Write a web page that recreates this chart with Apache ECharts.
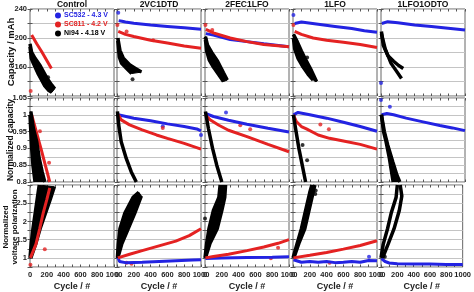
<!DOCTYPE html>
<html>
<head>
<meta charset="utf-8">
<script src="https://cdn.jsdelivr.net/npm/echarts@6/dist/echarts.min.js"></script>
<style>
html, body { margin: 0; padding: 0; background: #fff; }
#chart { width: 474px; height: 292px; }
</style>
</head>
<body>
<div id="chart"></div>
<script>
// 列标题 / 图例
const columns = ['Control', '2VC1DTD', '2FEC1LFO', '1LFO', '1LFO1ODTO']
const seriesNames = ['SC532 - 4.3 V', 'SC811 - 4.2 V', 'Ni94 - 4.18 V']

// 刻度标签
const cycleTicks = [0, 200, 400, 600, 800, 1000]
const capTicks = [160, 200, 240]
const normTicks = [0.8, 0.85, 0.9, 0.95, 1, 1.05]
const polTicks = [1, 1.5, 2, 2.5]

// 第一行: Capacity / mAh  (每列一组 [cycle, value])
const capBlue = [
  [],
  [[20, 224], [60, 223], [100, 222], [200, 220.5], [400, 218], [600, 216], [800, 214], [1000, 212]],
  [[10, 206], [100, 204], [300, 198], [500, 195], [700, 192], [1000, 188]],
  [[20, 220], [100, 222], [300, 219], [500, 216], [700, 213], [850, 210], [1000, 208]],
  [[10, 220], [80, 222.5], [200, 221], [400, 218], [600, 216], [800, 213.5], [1000, 211]]
]
const capRed = [
  [[20, 204], [80, 192], [140, 181], [200, 169], [255, 158]],
  [[15, 209], [100, 205], [200, 202], [400, 197], [600, 193], [800, 189], [1000, 186]],
  [[10, 212], [100, 207], [300, 200], [500, 195], [700, 191], [1000, 188]],
  [[20, 209], [100, 205], [240, 200], [400, 197], [600, 194], [800, 191], [1000, 187]],
  []
]
// 黑色带: A 为上/右边缘, B 为下/左边缘
const capBlackA = [
  [[0, 192], [20, 180], [60, 172], [120, 162], [200, 145], [260, 135], [295, 130]],
  [[10, 200], [35, 183], [75, 172], [150, 163], [220, 158], [290, 153]],
  [[5, 202], [30, 190], [80, 180], [150, 168], [220, 152], [265, 142]],
  [[5, 205], [50, 195], [100, 182], [160, 168], [220, 155], [280, 140]],
  [[5, 209], [27, 190], [80, 176], [150, 168], [210, 162], [265, 158]]
]
const capBlackB = [
  [[0, 188], [15, 172], [40, 165], [100, 150], [176, 134], [220, 128], [260, 125]],
  [[10, 196], [27, 174], [55, 165], [115, 158], [175, 151]],
  [[5, 198], [20, 182], [50, 170], [100, 160], [160, 150], [220, 140]],
  [[5, 200], [20, 185], [60, 172], [120, 160], [180, 150], [240, 142]],
  [[5, 206], [50, 185], [120, 165], [180, 155], [244, 144]]
]
const capBlueDots = [[], [[15, 235]], [], [[5, 231.7]], [[0, 138]]]
const capRedDots = [[[8, 127]], [[5, 218], [114, 209], [430, 197]], [[5, 218], [86, 211]], [[5, 218]], []]
const capBlackDots = [[[215, 146]], [[185, 143]], [], [[168, 173]], []]

// 第二行: Normalized capacity
const normBlue = [
  [],
  [[15, 1.0], [200, 0.99], [400, 0.982], [600, 0.973], [800, 0.965], [950, 0.958], [1000, 0.952]],
  [[5, 1.004], [100, 0.995], [280, 0.984], [500, 0.972], [750, 0.96], [1000, 0.949]],
  [[5, 1.0], [60, 1.007], [200, 1.0], [400, 0.99], [600, 0.978], [800, 0.965], [1000, 0.951]],
  [[8, 1.0], [70, 1.004], [150, 1.0], [300, 0.99], [500, 0.979], [700, 0.968], [850, 0.961], [1000, 0.953]]
]
const normRed = [
  [[20, 1.0], [130, 0.9], [235, 0.8]],
  [[15, 1.0], [50, 0.985], [150, 0.97], [300, 0.955], [470, 0.94], [600, 0.93], [800, 0.915], [1000, 0.898]],
  [[5, 1.0], [60, 0.985], [165, 0.969], [280, 0.954], [500, 0.935], [750, 0.912], [1000, 0.89]],
  [[5, 1.0], [40, 0.98], [100, 0.965], [160, 0.958], [300, 0.94], [435, 0.93], [600, 0.922], [800, 0.912], [1000, 0.898]],
  []
]
const normBlackA = [
  [[10, 1.01], [40, 0.96], [80, 0.92], [110, 0.87], [145, 0.83], [176, 0.8]],
  [[5, 1.01], [20, 0.97], [50, 0.92], [110, 0.87], [170, 0.83], [230, 0.8]],
  [[5, 1.01], [40, 0.96], [90, 0.9], [140, 0.85], [200, 0.8]],
  [[5, 1.0], [30, 0.96], [70, 0.9], [110, 0.85], [150, 0.8]],
  [[5, 1.0], [40, 0.95], [80, 0.91], [140, 0.86], [190, 0.82], [224, 0.8]]
]
const normBlackB = [
  [[0, 1.0], [10, 0.95], [20, 0.9], [35, 0.85], [60, 0.8]],
  [],
  [],
  [],
  [[5, 1.0], [30, 0.95], [60, 0.92], [100, 0.87], [145, 0.8]]
]
const normBlueDots = [[], [[545, 0.966], [1000, 0.94]], [[250, 1.007]], [], [[0, 1.044], [106, 1.024]]]
const normRedDots = [[[118, 0.951], [227, 0.857]], [[545, 0.961]], [[420, 0.969], [538, 0.957]], [[326, 0.971], [427, 0.957]], []]
const normBlackDots = [[], [], [], [[114, 0.91], [168, 0.865]], []]

// 第三行: Normalized voltage polarization
const polBlue = [
  [],
  [[5, 1.05], [30, 0.9], [100, 0.87], [300, 0.88], [500, 0.9], [700, 0.92], [900, 0.94], [1000, 0.95]],
  [[5, 0.98], [200, 1.0], [500, 1.01], [800, 1.02], [1000, 1.03]],
  [[5, 0.95], [100, 0.88], [200, 0.9], [300, 0.88], [400, 0.9], [500, 0.87], [600, 0.88], [700, 0.9], [800, 0.88], [900, 0.93], [1000, 0.92]],
  [[5, 0.98], [50, 0.9], [100, 0.86], [200, 0.84], [400, 0.83], [600, 0.83], [800, 0.82], [1000, 0.82]]
]
const polRed = [
  [[5, 1.0], [70, 1.37], [115, 1.8], [157, 2.23], [200, 2.6], [235, 2.92]],
  [[10, 1.0], [150, 1.1], [300, 1.2], [500, 1.33], [700, 1.46], [860, 1.61], [1000, 1.8]],
  [[5, 1.0], [100, 1.04], [280, 1.1], [500, 1.2], [700, 1.3], [870, 1.4], [1000, 1.5]],
  [[5, 1.0], [200, 1.07], [400, 1.15], [600, 1.24], [800, 1.34], [1000, 1.47]],
  []
]
const polBlackA = [
  [[0, 1.0], [15, 1.4], [35, 1.8], [60, 2.2], [85, 2.6], [110, 3.0]],
  [[5, 1.0], [15, 1.37], [35, 1.8], [94, 2.23], [192, 2.66], [260, 2.8]],
  [[0, 1.0], [20, 1.4], [47, 1.8], [100, 2.3], [165, 2.66], [180, 3.0]],
  [[0, 1.0], [50, 1.4], [100, 1.8], [150, 2.3], [200, 2.8], [225, 3.0]],
  [[0, 1.0], [27, 1.37], [80, 1.8], [125, 2.23], [185, 2.66], [200, 3.0]]
]
const polBlackB = [
  [[10, 1.0], [70, 1.4], [120, 1.8], [180, 2.2], [240, 2.6], [290, 2.95]],
  [[10, 1.0], [55, 1.37], [133, 1.8], [212, 2.23], [290, 2.7]],
  [[5, 1.0], [60, 1.4], [145, 1.8], [200, 2.3], [235, 2.66], [245, 3.0]],
  [[10, 1.0], [70, 1.4], [140, 1.8], [190, 2.3], [240, 2.8], [260, 3.0]],
  [[20, 1.0], [86, 1.37], [160, 1.8], [224, 2.3], [255, 2.7], [235, 3.0]]
]
const polBlueDots = [[], [], [], [[905, 1.03]], []]
const polRedDots = [[[176, 1.24], [5, 0.81]], [[114, 0.87], [173, 0.84]], [[870, 1.28], [784, 0.99]], [[435, 0.87]], []]
const polBlackDots = [[[80, 2.25], [120, 2.28], [155, 2.32]], [], [[0, 2.08]], [[265, 2.75], [270, 2.85]], [[47, 1.03]]]

// 哪些黑色带是密集填充的
const capBand = [true, true, true, true, false]
const normBand = [true, false, false, false, true]
const polBand = [true, true, true, true, false]

const blue = '#2323e2'
const red = '#e42222'
const black = '#000000'
const font = '"Liberation Sans", Arial, sans-serif'

const rows = [
  { ticks: capTicks, min: 120, max: 240, interval: 20, band: capBand, redOnTop: false, blue: capBlue, red: capRed, blackA: capBlackA, blackB: capBlackB, blueDots: capBlueDots, redDots: capRedDots, blackDots: capBlackDots },
  { ticks: normTicks, min: 0.8, max: 1.05, interval: 0.025, band: normBand, redOnTop: false, blue: normBlue, red: normRed, blackA: normBlackA, blackB: normBlackB, blueDots: normBlueDots, redDots: normRedDots, blackDots: normBlackDots },
  { ticks: polTicks, min: 0.75, max: 3, interval: 0.25, band: polBand, redOnTop: true, blue: polBlue, red: polRed, blackA: polBlackA, blackB: polBlackB, blueDots: polBlueDots, redDots: polRedDots, blackDots: polBlackDots }
]

const colLeft = [30, 117, 205, 293, 381]
const colWidth = 84
const rowTop = [9, 98, 185]
const rowHeight = [87, 84, 84]

const onTick = (list, v) => list.some(t => Math.abs(t - v) < 1e-6)

const grid = []
const xAxis = []
const yAxis = []
const series = []

rows.forEach((row, r) => {
  columns.forEach((col, c) => {
    const gi = grid.length
    grid.push({
      left: colLeft[c],
      top: rowTop[r],
      width: colWidth,
      height: rowHeight[r],
      show: true,
      borderColor: '#666',
      borderWidth: 1
    })
    const tick = { show: true, inside: true, length: 2.5, lineStyle: { color: '#555' } }
    xAxis.push({
      type: 'value', gridIndex: gi, min: 0, max: 1000, interval: 100,
      axisLine: { show: false }, axisTick: tick, splitLine: { show: false },
      axisLabel: {
        show: r === 2, margin: 4, fontSize: 7.5, fontWeight: 'bold', fontFamily: font, color: '#222',
        formatter: v => (onTick(cycleTicks, v) ? String(v) : '')
      },
      name: r === 2 ? 'Cycle / #' : '',
      nameLocation: 'middle', nameGap: 15,
      nameTextStyle: { fontSize: 9, fontWeight: 'bold', fontFamily: font, color: '#222' }
    })
    xAxis.push({
      type: 'value', gridIndex: gi, position: 'top', min: 0, max: 1000, interval: 100,
      axisLine: { show: false }, axisTick: tick, splitLine: { show: false }, axisLabel: { show: false }
    })
    yAxis.push({
      type: 'value', gridIndex: gi, min: row.min, max: row.max, interval: row.interval,
      axisLine: { show: false }, axisTick: tick,
      splitLine: { show: true, lineStyle: { color: '#c4c4c4', width: 1 } },
      axisLabel: {
        show: c === 0, margin: 3, fontSize: 7.5, fontWeight: 'bold', fontFamily: font, color: '#222',
        formatter: v => (onTick(row.ticks, v) ? String(+v.toFixed(3)) : '')
      }
    })
    yAxis.push({
      type: 'value', gridIndex: gi, position: 'right', min: row.min, max: row.max, interval: row.interval,
      axisLine: { show: false }, axisTick: tick, splitLine: { show: false }, axisLabel: { show: false }
    })

    const line = (name, color, data, width) => ({
      name, type: 'line', xAxisIndex: gi * 2, yAxisIndex: gi * 2, data,
      showSymbol: false, lineStyle: { color, width }, itemStyle: { color }, clip: true
    })
    const dots = (name, color, data) => ({
      name, type: 'scatter', xAxisIndex: gi * 2, yAxisIndex: gi * 2, data,
      symbolSize: 4, itemStyle: { color }, clip: true
    })
    // 密集黑色带: 上边缘 + 反向下边缘 组成多边形
    const band = (name, upper, lower) => ({
      name, type: 'custom', xAxisIndex: gi * 2, yAxisIndex: gi * 2, data: [0], clip: true,
      itemStyle: { color: black },
      renderItem: (params, api) => {
        const pts = upper.concat(lower.slice().reverse()).map(p => api.coord(p))
        const cs = params.coordSys
        return {
          type: 'polygon',
          shape: { points: pts },
          style: { fill: black, stroke: black, lineWidth: 1 },
          clipPath: { type: 'rect', shape: { x: cs.x, y: cs.y, width: cs.width, height: cs.height } }
        }
      }
    })
    const redSeries = []
    if (row.red[c].length) redSeries.push(line(seriesNames[1], red, row.red[c], 3))
    if (row.redDots[c].length) redSeries.push(dots(seriesNames[1], red, row.redDots[c]))

    if (row.blue[c].length) series.push(line(seriesNames[0], blue, row.blue[c], 3))
    if (row.blueDots[c].length) series.push(dots(seriesNames[0], blue, row.blueDots[c]))
    if (!row.redOnTop) series.push(...redSeries)
    if (row.blackA[c].length) series.push(line(seriesNames[2], black, row.blackA[c], 3.5))
    if (row.blackB[c].length) series.push(line(seriesNames[2], black, row.blackB[c], 3.5))
    if (row.band[c] && row.blackB[c].length) series.push(band(seriesNames[2], row.blackA[c], row.blackB[c]))
    if (row.blackDots[c].length) series.push(dots(seriesNames[2], black, row.blackDots[c]))
    if (row.redOnTop) series.push(...redSeries)
  })
})

const textEl = (text, x, y, size, rotate) => ({
  type: 'text', x, y, rotation: rotate ? Math.PI / 2 : 0,
  style: {
    text, fontSize: size, fontWeight: 'bold', fontFamily: font, fill: '#111',
    textAlign: 'center', textVerticalAlign: 'middle'
  }
})

const graphic = columns.map((t, c) => textEl(t, colLeft[c] + colWidth / 2, 5, 8.5, false))
graphic.push(textEl('Capacity / mAh', 11, 52, 9.5, true))
graphic.push(textEl('Normalized capacity', 11, 140, 8.5, true))
graphic.push(textEl('Normalized', 6, 227, 8, true))
graphic.push(textEl('voltage polarization', 15, 227, 8, true))

const myChart = echarts.init(document.getElementById('chart'), null, { renderer: 'canvas' })
myChart.setOption({
  animation: false,
  backgroundColor: '#fff',
  legend: {
    orient: 'vertical', left: 55, top: 12, itemWidth: 6, itemHeight: 6, itemGap: 2,
    icon: 'circle', padding: 0,
    textStyle: { fontSize: 7, fontWeight: 'bold', fontFamily: font, padding: [0, 0, 0, -2] },
    data: [
      { name: seriesNames[0], itemStyle: { color: blue }, textStyle: { color: blue } },
      { name: seriesNames[1], itemStyle: { color: red }, textStyle: { color: red } },
      { name: seriesNames[2], itemStyle: { color: black }, textStyle: { color: black } }
    ]
  },
  grid,
  xAxis,
  yAxis,
  series,
  graphic
})
</script>
</body>
</html>
